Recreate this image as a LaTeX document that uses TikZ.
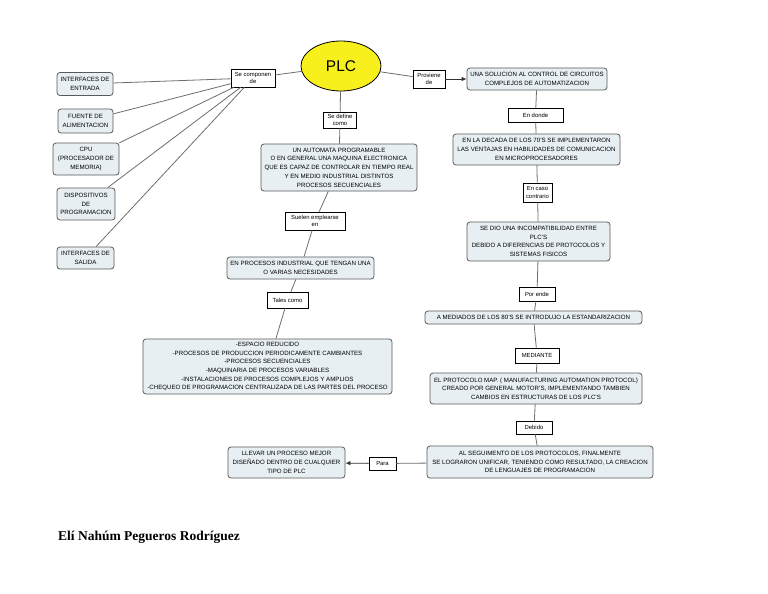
\documentclass[tikz,border=0pt]{standalone}
\usepackage{fontspec}
\setmainfont{Liberation Sans}
\newfontfamily\sigfont{Liberation Serif}
\usetikzlibrary{arrows.meta,shapes.geometric,calc}
\definecolor{concfill}{HTML}{E8EFF3}
\definecolor{concdraw}{HTML}{5A5A5A}
\definecolor{linkcol}{HTML}{6E6E6E}
\definecolor{plcyellow}{HTML}{F7F01C}
\newcommand{\bxfont}{\fontsize{6.15}{8.7}\selectfont}
\newcommand{\lkfont}{\fontsize{5.9}{7.6}\selectfont}
\tikzset{
  concept/.style={draw=concdraw, fill=concfill, rounded corners=3pt, line width=0.8pt,
    align=center, font=\bxfont, inner sep=1pt},
  linkbox/.style={draw=black, fill=white, line width=0.6pt, align=center,
    font=\lkfont, inner sep=1pt},
  conn/.style={draw=linkcol, line width=0.8pt},
  arr/.style={conn, -{Latex[length=5pt,width=4.5pt]}, color=black!80}
}
\begin{document}
\begin{tikzpicture}[x=1pt,y=-1pt]
\useasboundingbox (0,0) rectangle (768,594);
\fill[white] (0,0) rectangle (768,594);

% PLC
\node[ellipse, draw=black, line width=0.8pt, fill=plcyellow, minimum width=80pt, minimum height=50pt,
  font=\fontsize{15.5}{18}\selectfont] (plc) at (341,66) {PLC};

% left branch
\node[linkbox, minimum width=44pt, minimum height=18pt] (secomp) at (253,78) {Se componen\\de};
\node[concept, minimum width=56pt, minimum height=23pt] (ie) at (85,84) {INTERFACES DE\\ENTRADA};
\node[concept, minimum width=55pt, minimum height=24pt] (fa) at (85.5,121) {FUENTE DE\\ALIMENTACION};
\node[concept, minimum width=66pt, minimum height=32pt] (cpu) at (86,159) {CPU\\(PROCESADOR DE\\MEMORIA)};
\node[concept, minimum width=58pt, minimum height=32pt] (dp) at (86,204) {DISPOSITIVOS\\DE\\PROGRAMACION};
\node[concept, minimum width=57pt, minimum height=22pt] (is) at (85.5,258) {INTERFACES DE\\SALIDA};

% center branch
\node[linkbox, minimum width=33pt, minimum height=16pt] (sedef) at (340,120) {Se define\\como};
\node[concept, minimum width=156pt, minimum height=47pt] (auto) at (339,167.5)
  {UN AUTOMATA PROGRAMABLE\\O EN GENERAL UNA MAQUINA ELECTRONICA\\QUE ES CAPAZ DE CONTROLAR EN TIEMPO REAL\\Y EN MEDIO INDUSTRIAL DISTINTOS\\PROCESOS SECUENCIALES};
\node[linkbox, minimum width=60pt, minimum height=18pt] (suelen) at (315,221) {Suelen emplearse\\en};
\node[concept, minimum width=147pt, minimum height=22pt] (enproc) at (300.5,268)
  {EN PROCESOS INDUSTRIAL QUE TENGAN UNA\\O VARIAS NECESIDADES};
\node[linkbox, minimum width=41pt, minimum height=16pt] (tales) at (287.5,300) {Tales como};
\node[concept, minimum width=249pt, minimum height=55pt] (lista) at (267.5,366.5)
  {-ESPACIO REDUCIDO\\-PROCESOS DE PRODUCCION PERIODICAMENTE CAMBIANTES\\-PROCESOS SECUENCIALES\\-MAQUINARIA DE PROCESOS VARIABLES\\-INSTALACIONES DE PROCESOS COMPLEJOS Y AMPLIOS\\-CHEQUEO DE PROGRAMACION CENTRALIZADA DE LAS PARTES DEL PROCESO};

% right branch
\node[linkbox, minimum width=32pt, minimum height=18pt] (prov) at (429,79) {Proviene\\de};
\node[concept, minimum width=140pt, minimum height=22pt] (sol) at (537,79)
  {UNA SOLUCION AL CONTROL DE CIRCUITOS\\COMPLEJOS DE AUTOMATIZACION};
\node[linkbox, minimum width=55pt, minimum height=14pt] (endonde) at (535.5,115) {En donde};
\node[concept, minimum width=167pt, minimum height=31pt] (decada) at (536.5,149.5)
  {EN LA DECADA DE LOS 70'S SE IMPLEMENTARON\\LAS VENTAJAS EN HABILIDADES DE COMUNICACION\\EN MICROPROCESADORES};
\node[linkbox, minimum width=29pt, minimum height=19pt] (caso) at (537.5,192.5) {En caso\\contrario};
\node[concept, minimum width=143pt, minimum height=39pt] (incomp) at (538.5,241.5)
  {SE DIO UNA INCOMPATIBILIDAD ENTRE\\PLC'S\\DEBIDO A DIFERENCIAS DE PROTOCOLOS Y\\SISTEMAS FISICOS};
\node[linkbox, minimum width=36pt, minimum height=14pt] (porende) at (537,294) {Por ende};
\node[concept, minimum width=217pt, minimum height=13pt] (mediados) at (533.5,317.5)
  {A MEDIADOS DE LOS 80'S SE INTRODUJO LA ESTANDARIZACION};
\node[linkbox, minimum width=44pt, minimum height=15pt] (mediante) at (537,355.5) {MEDIANTE};
\node[concept, minimum width=212pt, minimum height=31pt] (map) at (536,388.5)
  {EL PROTOCOLO MAP. ( MANUFACTURING AUTOMATION PROTOCOL)\\CREADO POR GENERAL MOTOR'S, IMPLEMENTANDO TAMBIEN\\CAMBIOS EN ESTRUCTURAS DE LOS PLC'S};
\node[linkbox, minimum width=36pt, minimum height=13pt] (debido) at (534,427.5) {Debido};
\node[concept, minimum width=226pt, minimum height=32pt] (seguim) at (540,462)
  {AL SEGUIMENTO DE LOS PROTOCOLOS, FINALMENTE\\SE LOGRARON UNIFICAR, TENIENDO COMO RESULTADO, LA CREACION\\DE LENGUAJES DE PROGRAMACION};
\node[linkbox, minimum width=27pt, minimum height=13pt] (para) at (382.5,463.5) {Para};
\node[concept, minimum width=117pt, minimum height=31pt] (llevar) at (286.5,462.5)
  {LLEVAR UN PROCESO MEJOR\\DISEÑADO DENTRO DE CUALQUIER\\TIPO DE PLC};

% signature
\node[anchor=base west, inner sep=0pt, font=\sigfont\bfseries\fontsize{13.5}{15}\selectfont] (firma) at (58,540)
  {Elí Nahúm Pegueros Rodríguez};

% connectors
\draw[conn] (secomp) -- (plc);
\draw[conn] (ie) -- (secomp);
\draw[conn] (fa) -- (secomp);
\draw[conn] (cpu) -- (secomp);
\draw[conn] (dp) -- (secomp);
\draw[conn] (is) -- (secomp);
\draw[conn] (plc) -- (sedef);
\draw[conn] (sedef) -- (auto);
\draw[conn] (auto) -- (suelen);
\draw[conn] (suelen) -- (enproc);
\draw[conn] (enproc) -- (tales);
\draw[conn] (tales) -- (lista);
\draw[conn] (plc) -- (prov);
\draw[arr] (prov) -- (sol);
\draw[conn] (sol) -- (endonde);
\draw[conn] (endonde) -- (decada);
\draw[conn] (decada) -- (caso);
\draw[conn] (caso) -- (incomp);
\draw[conn] (incomp) -- (porende);
\draw[conn] (porende) -- (mediados);
\draw[conn] (mediados) -- (mediante);
\draw[conn] (mediante) -- (map);
\draw[conn] (map) -- (debido);
\draw[conn] (debido) -- (seguim);
\draw[conn] (seguim) -- (para);
\draw[arr] (para) -- (llevar);
\end{tikzpicture}
\end{document}
